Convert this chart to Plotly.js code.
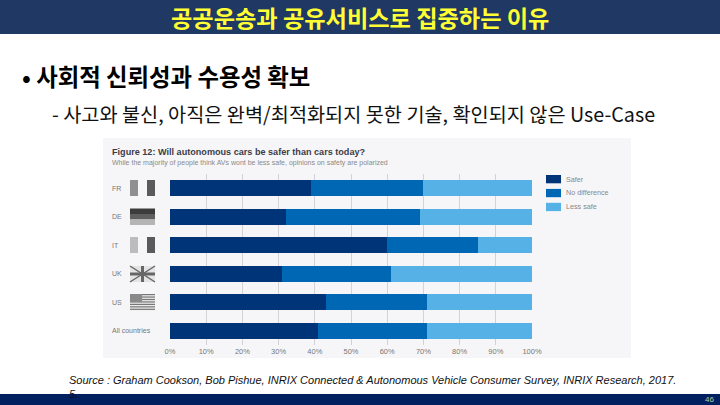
<!DOCTYPE html>
<html><head><meta charset="utf-8">
<script src="https://cdn.plot.ly/plotly-3.0.1.min.js"></script>
<style>html,body{margin:0;padding:0;background:#fff}#c{width:720px;height:405px}</style></head>
<body><div id="c"></div>
<script>
const categories = ['FR','DE','IT','UK','US','All countries'];
const seriesNames = ['Safer','No difference','Less safe'];
const seriesColors = ['#003478','#0067B4','#55B1E6'];
const safer = [39,32,60,31,43,41];
const noDifference = [31,37,25,30,28,30];
const lessSafe = [30,31,15,39,29,29];
const xTicks = [0,10,20,30,40,50,60,70,80,90,100];
const xTickLabels = xTicks.map(v => v + '%');
const W = 720, H = 405;
const px = x => x / W, py = y => 1 - y / H;
const shapes = [];
function rect(x0,y0,x1,y1,color,layer){shapes.push({type:'rect',xref:'paper',yref:'paper',x0:px(x0),x1:px(x1),y0:py(y0),y1:py(y1),fillcolor:color,line:{width:0},layer:layer||'below'});}
function line(x0,y0,x1,y1,color,w){shapes.push({type:'line',xref:'paper',yref:'paper',x0:px(x0),x1:px(x1),y0:py(y0),y1:py(y1),line:{color:color,width:w},layer:'below'});}
rect(0,0,720,34,'#1F3864');
rect(0,394,720,405,'#002060');
rect(103,138,631,358,'#F6F6F8');
// flags
rect(130,180,138,196,'#8f8f8f'); rect(147,180,155,196,'#5a5a5a');
rect(130,208.5,155,214,'#3c3c3c'); rect(130,214,155,219.5,'#5f5f5f'); rect(130,219.5,155,225,'#b5b5b5');
rect(130,237,138,253,'#bcbcbc'); rect(147,237,155,253,'#5a5a5a');
rect(130,266,155,282,'#e4e4e4');
line(130,266,155,282,'#666',1.4); line(155,266,130,282,'#666',1.4);
rect(141,266,144,282,'#666'); rect(130,272.5,155,275.5,'#666');
rect(130,294,155,310.5,'#ececec');
for(let i=0;i<7;i++){rect(130,294+i*2.45,155,295.2+i*2.45,'#777');}
rect(130,294,142,302,'#8a8a8a');
// legend keys
seriesColors.forEach((c,i)=>rect(546,175+i*13.9,561,183.3+i*13.9,c));

const LS='"Liberation Sans",sans-serif';
const ann = (text,x,y,size,color,family,opts) => Object.assign({text:text,xref:'paper',yref:'paper',x:px(x),y:py(y),xanchor:'left',yanchor:'middle',showarrow:false,font:{size:size,color:color,family:family||'"Noto Sans CJK KR",sans-serif'}},opts||{});
const annotations = [
 ann('<b>공공운송과 공유서비스로 집중하는 이유</b>',360,17,23.2,'#FFFF33',null,{xanchor:'center'}),
 ann('<b>• 사회적 신뢰성과 수용성 확보</b>',20,76,23.4,'#000'),
 ann('- 사고와 불신, 아직은 완벽/최적화되지 못한 기술, 확인되지 않은 Use-Case',50,114,19.7,'#111'),
 ann('While the majority of people think AVs wont be less safe, opinions on safety are polarized',110,162.5,7,'#8a8a8a',LS),
 ann('<i>Source : Graham Cookson, Bob Pishue, INRIX Connected &amp; Autonomous Vehicle Consumer Survey, INRIX Research, 2017.</i>',67,380,11,'#111',LS),
 ann('<i>5.</i>',67,394,11,'#111',LS),
 ann('46',709,399,8,'#a5d6a7',LS,{xanchor:'center'})
];
categories.forEach(c => annotations.push({text:c,xref:'paper',yref:'y',x:px(110),y:c,xanchor:'left',yanchor:'middle',showarrow:false,font:{size:7,color:'#777',family:LS}}));
seriesNames.forEach((n,i)=>annotations.push(ann(n,564,179+i*13.9,7.2,'#888',LS)));

const bar = (name,vals,color) => ({type:'bar',orientation:'h',name:name,y:categories,x:vals,marker:{color:color,line:{width:0}},width:0.57,hoverinfo:'skip',showlegend:false});
const data = [bar(seriesNames[0],safer,seriesColors[0]),bar(seriesNames[1],noDifference,seriesColors[1]),bar(seriesNames[2],lessSafe,seriesColors[2])];
const layout = {
 width:W,height:H,margin:{l:0,r:0,t:0,b:0,pad:0},paper_bgcolor:'#fff',plot_bgcolor:'rgba(0,0,0,0)',
 barmode:'stack',bargap:0.43,
 title:{text:'<b>Figure 12: Will autonomous cars be safer than cars today?</b>',xref:'paper',yref:'paper',x:px(112),y:py(152),xanchor:'left',yanchor:'middle',font:{size:9.1,color:'#3c3c46',family:LS}},
 xaxis:{domain:[px(170),px(532)],range:[0,100],tickmode:'array',tickvals:xTicks,ticktext:xTickLabels,showgrid:true,gridcolor:'#D3D3D6',gridwidth:1,zeroline:false,ticks:'',showline:false,tickfont:{size:7.5,color:'#777',family:LS},automargin:false,fixedrange:true},
 yaxis:{domain:[py(345),py(174)],type:'category',categoryorder:'array',categoryarray:categories,autorange:'reversed',showticklabels:false,showgrid:false,zeroline:false,ticks:'',fixedrange:true},
 shapes:shapes,annotations:annotations,showlegend:false
};
Plotly.newPlot('c',data,layout,{displayModeBar:false,staticPlot:true});
</script></body></html>
